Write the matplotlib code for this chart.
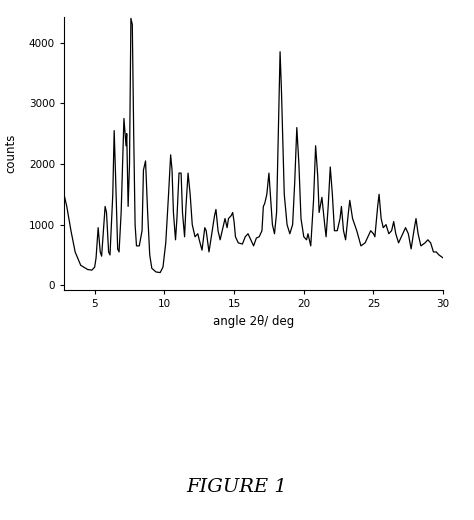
import matplotlib
matplotlib.use("Agg")
import matplotlib.pyplot as plt

# 2theta (deg) and counts
angle = [2.8, 3.0, 3.3, 3.6, 4.0, 4.5, 4.8, 5.0, 5.1, 5.25, 5.4, 5.5, 5.75, 5.85, 6.0, 6.1,
         6.3, 6.4, 6.5, 6.65, 6.75, 6.9, 7.1, 7.25, 7.3, 7.4, 7.5, 7.6, 7.7, 7.8, 7.9, 8.0,
         8.2, 8.4, 8.5, 8.65, 8.8, 8.95, 9.1, 9.4, 9.7, 9.9, 10.1, 10.3, 10.45, 10.55, 10.65,
         10.8, 10.9, 11.05, 11.2, 11.3, 11.45, 11.55, 11.7, 11.85, 12.0, 12.2, 12.4, 12.5,
         12.7, 12.9, 13.0, 13.2, 13.4, 13.6, 13.7, 13.85, 14.0, 14.2, 14.35, 14.5, 14.6,
         14.8, 14.9, 15.0, 15.1, 15.3, 15.6, 15.8, 16.0, 16.2, 16.4, 16.6, 16.8, 17.0, 17.1,
         17.2, 17.35, 17.5, 17.6, 17.75, 17.9, 18.05, 18.2, 18.3, 18.4, 18.6, 18.8, 19.0,
         19.2, 19.35, 19.5, 19.65, 19.8, 20.0, 20.2, 20.3, 20.5, 20.7, 20.85, 21.0, 21.1,
         21.3, 21.5, 21.6, 21.75, 21.9, 22.05, 22.2, 22.4, 22.6, 22.7, 22.85, 23.0, 23.2,
         23.3, 23.5, 23.8, 24.1, 24.4, 24.8, 25.0, 25.1, 25.3, 25.4, 25.55, 25.7, 25.9,
         26.1, 26.3, 26.45, 26.6, 26.8, 27.0, 27.3, 27.5, 27.7, 27.9, 28.05, 28.2, 28.4,
         28.7, 28.9, 29.1, 29.3, 29.5, 29.7, 30.0]
counts = [1500, 1300, 900, 550, 330, 260, 250, 300, 450, 950, 550, 480, 1300, 1200, 550, 500,
          1500, 2550, 1800, 600, 550, 1200, 2750, 2300, 2500, 1300, 2000, 4400, 4300, 2500, 1000, 650,
          650, 900, 1900, 2050, 1200, 500, 280, 220, 210, 300, 700, 1500, 2150, 1900, 1200,
          750, 1100, 1850, 1850, 1200, 800, 1300, 1850, 1500, 1000, 800, 850, 750,
          580, 950, 900, 550, 850, 1150, 1250, 900, 750, 950, 1100, 950, 1100,
          1150, 1200, 1050, 800, 700, 680, 800, 850, 750, 650, 780, 800, 900, 1300,
          1350, 1500, 1850, 1500, 1000, 850, 1200, 2800, 3850, 3200, 1500, 1000, 850,
          1000, 1700, 2600, 2000, 1100, 800, 750, 850, 650, 1400, 2300, 1800, 1200,
          1450, 1000, 800, 1300, 1950, 1500, 900, 900, 1100, 1300, 900, 750, 1200,
          1400, 1100, 900, 650, 700, 900, 850, 800, 1300, 1500, 1100, 950, 1000,
          850, 900, 1050, 850, 700, 800, 950, 850, 600, 900, 1100, 850, 650,
          700, 750, 700, 550, 550, 500, 450]

fig = plt.figure(figsize=(4.74, 5.2), dpi=100)
ax = fig.add_axes([0.135, 0.442, 0.80, 0.525])
ax.plot(angle, counts, color="black", linewidth=0.9)

ax.set_xlim(2.8, 30)
ax.set_ylim(-80, 4420)
ax.set_xticks([5, 10, 15, 20, 25, 30])
ax.set_yticks([0, 1000, 2000, 3000, 4000])
ax.tick_params(labelsize=7.5, direction="out", length=3)
ax.spines["top"].set_visible(False)
ax.spines["right"].set_visible(False)
ax.set_xlabel("angle 2θ/ deg", fontsize=8.5, labelpad=4)
ax.set_ylabel("counts", fontsize=8.5, labelpad=8)

fig.text(0.5, 0.063, "FIGURE 1", ha="center", va="center", fontsize=14,
         family="DejaVu Serif", style="italic")

fig.savefig("out.png", dpi=100)
